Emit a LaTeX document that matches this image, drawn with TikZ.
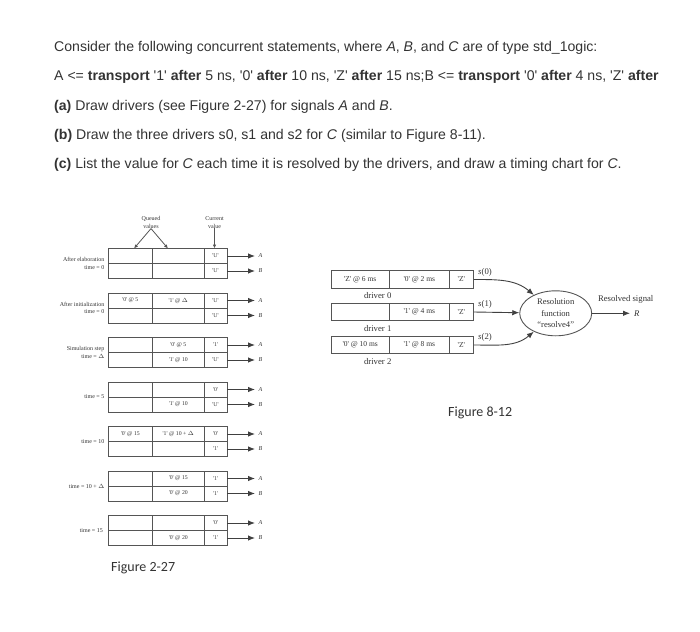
\documentclass[tikz,border=0pt]{standalone}
\usepackage{fontspec}
\usepackage{amsmath}
\newfontfamily\stmtfont{Liberation Sans}
\newfontfamily\figserif{Liberation Serif}
\newfontfamily\figcap{Carlito}
\usetikzlibrary{arrows.meta,shapes.geometric}
\definecolor{inkgray}{HTML}{333333}
\definecolor{linegray}{HTML}{555555}
\tikzset{
  stmt/.style={anchor=west, inner sep=0pt, text=inkgray, font=\stmtfont\fontsize{14.1}{16}\selectfont},
  cell/.style={draw=linegray, line width=0.9pt, minimum height=15pt, inner sep=0pt, text=inkgray, font=\figserif\fontsize{5.8}{7}\selectfont},
  smalltxt/.style={inner sep=0pt, text=inkgray, align=center, font=\figserif\fontsize{6}{7.5}\selectfont},
  figtxt/.style={inner sep=0pt, text=inkgray, align=center, font=\figserif\fontsize{8.7}{10}\selectfont},
  figcell/.style={draw=linegray, line width=0.9pt, minimum height=17.6pt, inner sep=0pt, text=inkgray, font=\figserif\fontsize{7.5}{9}\selectfont},
  figlabel/.style={inner sep=0pt, text=inkgray, font=\figcap\fontsize{14}{16}\selectfont},
  sig/.style={draw=black!75, line width=0.9pt, -{Latex[length=7pt,width=5.5pt]}},
  toparrow/.style={draw=linegray, line width=0.8pt, -{Latex[length=4pt,width=3.5pt]}},
}
\begin{document}
\begin{tikzpicture}[x=1pt,y=-1pt]
\useasboundingbox (0,0) rectangle (700,631);
% statements
\node[stmt] (line1) at (54,48) {Consider the following concurrent statements, where \textit{A}, \textit{B}, and \textit{C} are of type std\_1ogic:};
\node[stmt] (line2) at (54,77) {A <= \textbf{transport} '1' \textbf{after} 5 ns, '0' \textbf{after} 10 ns, 'Z' \textbf{after} 15 ns;B <= \textbf{transport} '0' \textbf{after} 4 ns, 'Z' \textbf{after}};
\node[stmt] (line3) at (54,107) {\textbf{(a)} Draw drivers (see Figure 2-27) for signals \textit{A} and \textit{B}.};
\node[stmt] (line4) at (54,136) {\textbf{(b)} Draw the three drivers s0, s1 and s2 for \textit{C} (similar to Figure 8-11).};
\node[stmt] (line5) at (54,165) {\textbf{(c)} List the value for \textit{C} each time it is resolved by the drivers, and draw a timing chart for \textit{C}.};
% Figure 2-27
\foreach \n/\y/\qal/\qam/\qbl/\qbm/\cura/\curb/\lab in {
  1/256/{}/{}/{}/{}/'U'/'U'/{After elaboration\\time = 0},
  2/300.5/{'0' @ 5}/{'1' @ $\Delta$}/{}/{}/'U'/'U'/{After initialization\\time = 0},
  3/345/{}/{'0' @ 5}/{}/{'1' @ 10}/'1'/'U'/{Simulation step\\time = $\Delta$},
  4/389.5/{}/{}/{}/{'1' @ 10}/'0'/'U'/{time = 5},
  5/434/{'0' @ 15}/{'1' @ 10 + $\Delta$}/{}/{}/'0'/'1'/{time = 10},
  6/478.5/{}/{'0' @ 15}/{}/{'0' @ 20}/'1'/'1'/{time = 10 + $\Delta$},
  7/523/{}/{}/{}/{'0' @ 20}/'0'/'1'/{time = 15}
}{
  \node[cell, minimum width=44.7pt] (a\n l) at (130.3,\y) {\qal};
  \node[cell, minimum width=51.3pt] (a\n m) at (178.3,\y) {\qam};
  \node[cell, minimum width=23pt] (a\n c) at (215.5,\y) {\cura};
  \node[cell, minimum width=44.7pt] (b\n l) at (130.3,\y+15) {\qbl};
  \node[cell, minimum width=51.3pt] (b\n m) at (178.3,\y+15) {\qbm};
  \node[cell, minimum width=23pt] (b\n c) at (215.5,\y+15) {\curb};
  \node[smalltxt, align=right, anchor=east] (t\n) at (104.5,\y+7.5) {\lab};
  \node[smalltxt, anchor=west, outer sep=3.5pt] (oa\n) at (255,\y) {\textit{A}};
  \node[smalltxt, anchor=west, outer sep=3.5pt] (ob\n) at (255,\y+15) {\textit{B}};
  \path[sig] (a\n c) -- (oa\n);
  \path[sig] (b\n c) -- (ob\n);
}
\node[smalltxt] (queued) at (151,222.5) {Queued\\values};
\node[smalltxt] (current) at (214.5,222.5) {Current\\value};
\coordinate (ql) at (134,248.5);
\coordinate (qm) at (168,248.5);
\coordinate (qc) at (214.5,248.5);
\path[toparrow] (queued.south) -- (ql);
\path[toparrow] (queued.south) -- (qm);
\path[toparrow] (current.south) -- (qc);
\node[figlabel, anchor=west] (fig227) at (111,568) {Figure 2-27};
% Figure 8-12
\foreach \n/\y/\qal/\qam in {
  0/279.5/{'Z' @ 6 ms}/{'0' @ 2 ms},
  1/312/{}/{'1' @ 4 ms},
  2/345/{'0' @ 10 ms}/{'1' @ 8 ms}
}{
  \node[figcell, minimum width=58.3pt] (d\n l) at (360.2,\y) {\qal};
  \node[figcell, minimum width=60pt] (d\n m) at (419.3,\y) {\qam};
  \node[figcell, minimum width=24pt] (d\n c) at (461.3,\y) {'Z'};
  \node[figtxt] (dn\n) at (377.7,\y+16.5) {driver \n};
  \node[figtxt] (s\n) at (485,\y-7.5) {\textit{s}(\n)};
}
\node[draw=linegray, line width=0.9pt, ellipse, minimum width=72pt, minimum height=45pt, inner sep=0pt, text=inkgray, align=center, font=\figserif\fontsize{8.6}{11.5}\selectfont] (res) at (555.7,313.3) {Resolution\\function\\“resolve4”};
\node[figtxt] (rsig) at (625.7,299) {Resolved signal};
\node[figtxt, anchor=west, outer sep=4pt] (rout) at (630,313.3) {\textit{R}};
\path[sig] (d0c.east) to[out=0, in=140] (res);
\path[sig] (d1c.east) -- (res);
\path[sig] (d2c.east) to[out=0, in=-140] (res);
\path[sig] (res) -- (rout);
\node[figlabel, anchor=west] (fig812) at (448,413) {Figure 8-12};
\end{tikzpicture}
\end{document}
